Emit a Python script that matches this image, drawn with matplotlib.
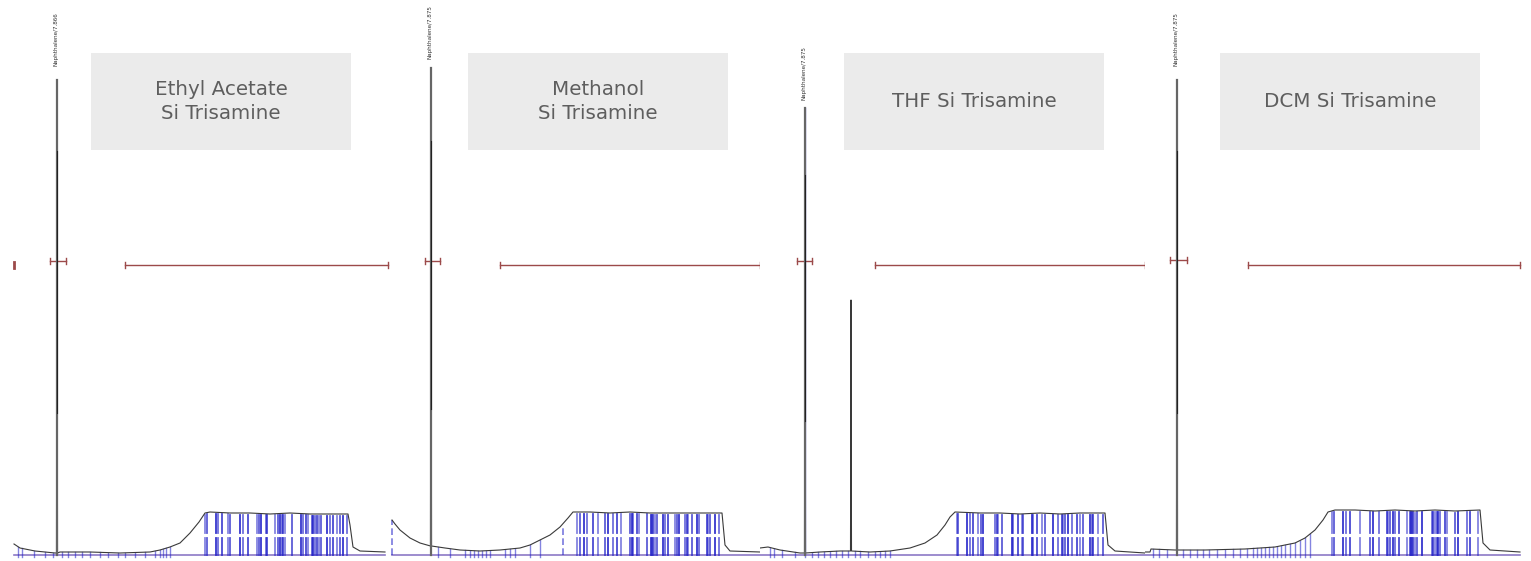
import numpy as np
import matplotlib
matplotlib.use("Agg")
import matplotlib.pyplot as plt
from matplotlib.patches import Rectangle

# ---- data (time in panel units, signal in detector units) ----
titles = ["Ethyl Acetate\nSi Trisamine", "Methanol\nSi Trisamine",
          "THF Si Trisamine", "DCM Si Trisamine"]
peak_labels = ["Naphthalene/7.866", "Naphthalene/7.875",
               "Naphthalene/7.875", "Naphthalene/7.875"]

# panel placement in pixels (left, width)
panel_left = [10, 390, 760, 1145]
panel_width = [380, 370, 385, 380]

# chromatogram traces
t1 = [4, 10, 25, 45, 46.5, 47, 47.5, 50, 80, 110, 140, 150, 160, 170, 180, 189, 195, 200,
      220, 240, 260, 280, 300, 320, 338, 340, 343, 350, 375]
s1 = [11, 7, 4, 2, 2, 475, 2, 3, 3, 2, 3, 5, 8, 12, 22, 33, 42, 43,
      42, 42, 41, 42, 41, 41, 41, 30, 8, 4, 3]
t2 = [2, 5, 10, 20, 30, 40.5, 41, 41.5, 55, 70, 90, 110, 120, 130, 140, 150, 160, 170, 178, 183,
      200, 220, 240, 260, 280, 300, 320, 332, 335, 340, 370]
s2 = [35, 31, 25, 17, 12, 9, 487, 9, 7, 5, 4, 5, 6, 7, 10, 15, 20, 28, 37, 43,
      43, 42, 43, 42, 42, 42, 42, 42, 10, 4, 3]
t3 = [0, 8, 20, 40, 44.5, 45, 45.5, 60, 80, 90.5, 91, 91.5, 110, 130, 150, 165, 177, 185, 190, 195,
      220, 240, 260, 280, 300, 320, 345, 348, 355, 385]
s3 = [7, 8, 5, 2, 2, 447, 2, 3, 4, 4, 255, 4, 3, 4, 7, 12, 20, 30, 38, 43,
      42, 42, 41, 42, 41, 42, 42, 10, 4, 2]
t4 = [0, 5, 6, 30, 31.5, 32, 32.5, 60, 100, 130, 150, 160, 170, 178, 183, 190,
      210, 230, 250, 270, 290, 310, 335, 338, 345, 375]
s4 = [3, 3, 6, 5, 5, 475, 5, 5, 6, 8, 12, 17, 25, 35, 43, 45,
      45, 44, 45, 44, 45, 44, 45, 12, 5, 3]
traces_t = [t1, t2, t3, t4]
traces_s = [s1, s2, s3, s4]
peak_t = [47, 41, 45, 32]
peak_h = [475, 487, 447, 475]

# integration event markers in the plateau
ticks1 = [195, 197, 206, 208, 212, 218, 220, 230, 233, 238, 247, 249, 251, 256, 257, 265, 268,
          270, 272, 273, 275, 282, 291, 293, 296, 298, 302, 303, 305, 307, 309, 311, 317, 320,
          323, 327, 330, 333, 337]
ticks2 = [187, 190, 194, 197, 203, 208, 215, 218, 223, 227, 231, 240, 242, 243, 247, 249, 257,
          261, 262, 263, 265, 267, 273, 275, 278, 285, 287, 289, 295, 297, 298, 302, 307, 309,
          317, 318, 320, 325, 329]
ticks3 = [197, 198, 207, 210, 213, 218, 221, 223, 235, 237, 238, 242, 252, 253, 258, 262, 263,
          272, 273, 277, 282, 285, 293, 298, 302, 303, 305, 308, 312, 317, 320, 323, 330, 332,
          333, 338, 343]
ticks4 = [187, 189, 198, 201, 205, 215, 225, 228, 234, 242, 243, 245, 248, 250, 254, 262, 265,
          266, 267, 268, 270, 272, 277, 287, 288, 290, 292, 293, 295, 300, 302, 310, 313, 322,
          325, 333]
plateau_ticks = [ticks1, ticks2, ticks3, ticks4]

# small markers along the baseline
base1 = [8, 12, 24, 35, 43, 52, 58, 65, 72, 80, 90, 98, 108, 115, 125, 135, 145, 150, 153, 156, 160]
base2 = [48, 60, 75, 80, 84, 88, 92, 96, 100, 115, 120, 125, 140, 150]
base3 = [10, 14, 22, 35, 45, 52, 58, 64, 70, 76, 82, 88, 95, 100, 108, 115, 120, 125, 130]
base4 = [8, 14, 22, 38, 45, 52, 58, 64, 72, 80, 88, 95, 102, 108, 112, 116, 120, 124, 128,
         132, 136, 140, 145, 150, 155, 160, 165]
baseline_ticks = [base1, base2, base3, base4]

# reference bars (start, end, level)
short_bar = [(40, 56, 294), (35, 50, 294), (37, 52, 294), (25, 42, 295)]
long_bar = [(115, 378, 290), (110, 370, 290), (115, 385, 290), (103, 375, 290)]

# label boxes (x0, x1) in panel units
box_x = [(81, 341), (78, 338), (84, 344), (75, 335)]
label_gap = [14, 9, 8, 14]

FIG_W, FIG_H = 1531, 561
fig = plt.figure(figsize=(FIG_W / 100, FIG_H / 100), dpi=100)

red = "#9c4a4a"
blue = "#2020c8"
purple = "#7058b8"

for i in range(4):
    L, W = panel_left[i], panel_width[i]
    ax = fig.add_axes([L / FIG_W, 0, W / FIG_W, 1])
    ax.set_xlim(0, W)
    ax.set_ylim(-6, 555)
    ax.axis("off")

    t = np.array(traces_t[i], dtype=float)
    s = np.array(traces_s[i], dtype=float)

    # baseline
    ax.plot([t[0], t[-1]], [0, 0], color=purple, lw=1.2, alpha=0.8, zorder=2)

    # event markers
    for k, x in enumerate(plateau_ticks[i]):
        top = np.interp(x, t, s) - 1.5
        a = 0.55 + 0.35 * ((k * 7) % 5) / 4
        ax.plot([x, x], [0, 17], color=blue, lw=1.3, alpha=a, zorder=3)
        ax.plot([x, x], [22, top], color=blue, lw=1.3, alpha=a, zorder=3)
    for x in baseline_ticks[i]:
        top = np.interp(x, t, s)
        ax.plot([x, x], [-1.5, top], color=blue, lw=1.0, alpha=0.55, zorder=3)

    # trace
    ax.plot(t, s, color="#3a3a3a", lw=0.8, zorder=4)
    ax.plot([peak_t[i], peak_t[i]], [0, peak_h[i]], color="#666666", lw=1.6, zorder=4)
    ax.plot([peak_t[i], peak_t[i]], [peak_h[i] * 0.3, peak_h[i] * 0.85],
            color="#222222", lw=0.8, zorder=5)

    if i == 1:
        ax.plot([2, 2], [0, 35], color=blue, lw=1.2, ls=(0, (4, 2)), alpha=0.6)
        ax.plot([173, 173], [0, 28], color=blue, lw=1.2, ls=(0, (4, 2)), alpha=0.6)
    if i == 0:
        ax.plot([4, 4], [287, 293], color=red, lw=2)

    # peak label
    ax.text(peak_t[i] - 1, peak_h[i] + label_gap[i], peak_labels[i], rotation=90,
            fontsize=4.1, ha="center", va="bottom", color="#333333")

    # reference bars
    for (a, b, lev), cap in ((short_bar[i], 3), (long_bar[i], 3)):
        ax.plot([a, b], [lev, lev], color=red, lw=1.0)
        ax.plot([a, a], [lev - cap, lev + cap], color=red, lw=1.0)
        ax.plot([b, b], [lev - cap, lev + cap], color=red, lw=1.0)

    # title box
    x0, x1 = box_x[i]
    ax.add_patch(Rectangle((x0, 405), x1 - x0, 97, facecolor="#ebebeb",
                           edgecolor="none", zorder=1))
    ax.text((x0 + x1) / 2, 453.5, titles[i], ha="center", va="center",
            fontsize=14.3, color="#5e5e5e", family="DejaVu Sans", linespacing=1.37)

fig.savefig("out.png", dpi=100)
